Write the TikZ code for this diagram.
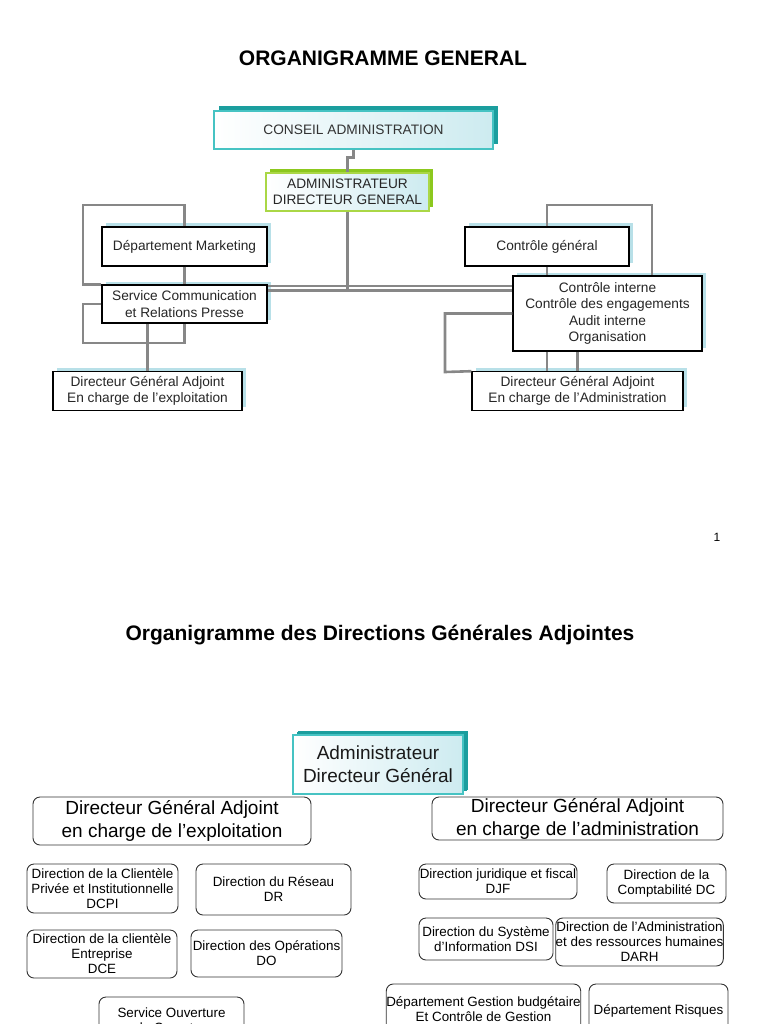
\documentclass[tikz,border=0pt]{standalone}
\usepackage{fontspec}
\setmainfont{Liberation Sans}
\usetikzlibrary{shadows}
\definecolor{shadowblue}{RGB}{184,224,232}
\definecolor{tealdark}{RGB}{27,158,158}
\definecolor{tealborder}{RGB}{70,195,195}
\definecolor{gradright}{RGB}{205,235,240}
\definecolor{greenshadow}{RGB}{140,200,30}
\definecolor{greenborder}{RGB}{170,215,70}
\definecolor{linegray}{RGB}{135,135,135}
\begin{document}
\begin{tikzpicture}[x=1pt,y=-1pt,
  tbox/.style={draw=black, line width=1.1pt, fill=white, inner sep=0pt, align=center,
    font=\fontsize{13.7}{16.3}\selectfont, text=black!85,
    general shadow={fill=shadowblue, shadow xshift=4pt, shadow yshift=3.5pt}},
  tealbox/.style={draw=tealborder, line width=1.1pt, left color=white, right color=gradright,
    inner sep=0pt, align=center, text=black!80,
    general shadow={fill=tealdark, shadow xshift=4.5pt, shadow yshift=4.5pt}},
  greenbox/.style={draw=greenborder, line width=1.3pt, left color=white, right color=gradright,
    inner sep=0pt, align=center, text=black!85, font=\fontsize{13.7}{16.3}\selectfont,
    general shadow={fill=greenshadow, shadow xshift=3.5pt, shadow yshift=3.5pt}},
  conn/.style={draw=linegray, line width=2.6pt},
  rbox/.style={draw=black!80, line width=0.9pt, rounded corners=7pt, inner sep=0pt, align=center,
    font=\fontsize{13.4}{15}\selectfont, fill=white},
  bigr/.style={rbox, font=\fontsize{19}{23}\selectfont},
  ttl/.style={font=\fontsize{21}{25}\selectfont\bfseries, inner sep=0pt}
]
\useasboundingbox (0,0) rectangle (768,1024);
\clip (0,0) rectangle (768,1024);

% ---------- page 1 ----------
\node[ttl] (t1) at (383,58.5) {ORGANIGRAMME GENERAL};

\node[tealbox, font=\fontsize{13.7}{16.3}\selectfont, minimum width=279pt, minimum height=38pt] (ca) at (353.5,130) {CONSEIL ADMINISTRATION};
\node[greenbox, minimum width=163pt, minimum height=38pt] (dg) at (347.5,192) {ADMINISTRATEUR\\DIRECTEUR GENERAL};

\node[tbox, minimum width=165pt, minimum height=39pt] (mkt) at (184.5,246.5) {Département Marketing};
\node[tbox, minimum width=165pt, minimum height=38pt] (scrp) at (184.5,304) {Service Communication\\et Relations Presse};
\node[tbox, minimum width=189pt, minimum height=38.5pt] (dgae) at (147.5,391) {Directeur Général Adjoint\\En charge de l’exploitation};

\node[tbox, minimum width=164pt, minimum height=39pt] (cg) at (547,246.5) {Contrôle général};
\node[tbox, minimum width=189pt, minimum height=75pt] (ci) at (607.5,313.5) {Contrôle interne\\Contrôle des engagements\\Audit interne\\Organisation};
\node[tbox, minimum width=211pt, minimum height=38.5pt] (dgaa) at (577.5,391) {Directeur Général Adjoint\\En charge de l’Administration};

\coordinate (h1) at (0,286);
\coordinate (h2) at (0,290.5);
\coordinate (lA) at (83,205);
\coordinate (lB) at (83,343);
\coordinate (rA) at (652,205);
\coordinate (rB) at (445,372);

\draw[conn] (ca.south) -- ++(0,8) -| (dg.north);
\draw[conn] (dg.south) -- (dg.south |- h2);
\draw[conn] (scrp.east |- h1) -- (ci.west |- h1);
\draw[conn] (scrp.east |- h2) -- (ci.west |- h2);
\draw[conn] (mkt.north) |- (lA) |- (scrp.north west);
\draw[conn] (mkt.south) -- (scrp.north);
\draw[conn] (scrp.west) -| (lB) -| (scrp.south);
\draw[conn] (dgae.north) -- (dgae.north |- scrp.south);
\draw[conn] (cg.north) |- (rA) -- (rA |- ci.north);
\draw[conn] (cg.south) -- (cg.south |- ci.north);
\draw[conn] (ci.west) -| (rB) -- (dgaa.north west);
\draw[conn] (cg.south |- ci.south) -- (cg.south |- dgaa.north);
\draw[conn] (dgaa.north) -- (dgaa.north |- ci.south);

\node[font=\fontsize{12}{14}\selectfont, inner sep=0pt] (pn) at (717,537) {1};

% ---------- page 2 ----------
\node[ttl] (t2) at (380,635) {Organigramme des Directions Générales Adjointes};

\node[tealbox, font=\fontsize{19}{23}\selectfont, text=black!90, minimum width=170pt, minimum height=59pt,
  general shadow={fill=tealdark, shadow xshift=4pt, shadow yshift=3.5pt}] (adm) at (378,764.5) {Administrateur\\Directeur Général};

\node[bigr, minimum width=278pt, minimum height=48pt] (dgaexp) at (172,821) {Directeur Général Adjoint\\en charge de l’exploitation};
\node[bigr, minimum width=291pt, minimum height=43pt] (dgaadm) at (577.5,818.5) {Directeur Général Adjoint\\en charge de l’administration};

\node[rbox, minimum width=151pt, minimum height=49pt] (dcpi) at (102.5,888.5) {Direction de la Clientèle\\Privée et Institutionnelle\\DCPI};
\node[rbox, minimum width=155pt, minimum height=51pt] (dr) at (273.5,889.5) {Direction du Réseau\\DR};
\node[rbox, minimum width=150pt, minimum height=48pt] (dce) at (102,954) {Direction de la clientèle\\Entreprise\\DCE};
\node[rbox, minimum width=151pt, minimum height=47pt] (dop) at (266.5,953.5) {Direction des Opérations\\DO};
\node[rbox, minimum width=145pt, minimum height=49pt] (sop) at (171.5,1021.5) {Service Ouverture\\de Comptes};

\node[rbox, minimum width=158pt, minimum height=35pt] (djf) at (498,881.5) {Direction juridique et fiscal\\DJF};
\node[rbox, minimum width=119pt, minimum height=39pt] (dc) at (666.5,883.5) {Direction de la\\Comptabilité DC};
\node[rbox, minimum width=134pt, minimum height=42pt] (dsi) at (486,939) {Direction du Système\\d’Information DSI};
\node[rbox, minimum width=161pt, minimum height=48pt] (darh) at (639.5,942) {Direction de l’Administration\\et des ressources humaines\\DARH};
\node[rbox, minimum width=189pt, minimum height=50pt] (dgb) at (483.5,1009) {Département Gestion budgétaire\\Et Contrôle de Gestion};
\node[rbox, minimum width=139pt, minimum height=54pt] (drisk) at (658.5,1011) {Département Risques};
\end{tikzpicture}
\end{document}
